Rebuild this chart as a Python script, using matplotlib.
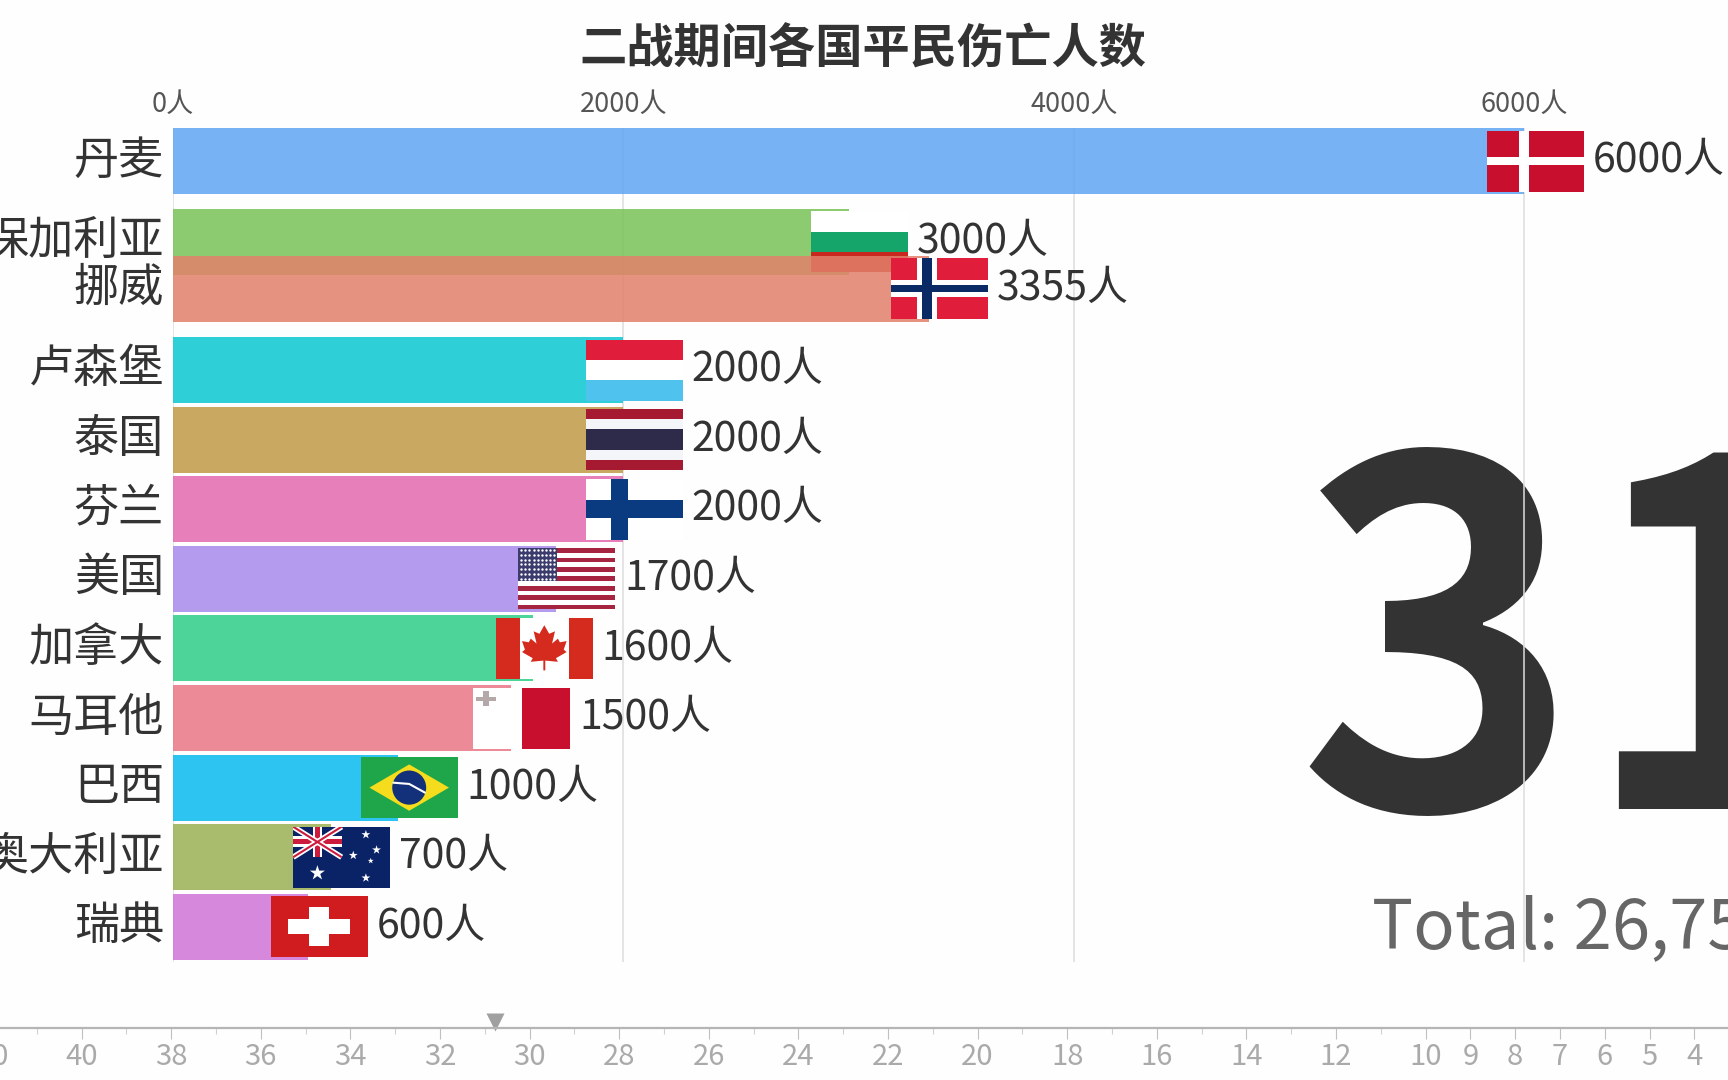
import numpy as np
import matplotlib
matplotlib.use('Agg')
import matplotlib.pyplot as plt
from matplotlib.patches import Rectangle, Polygon, Ellipse
from matplotlib.ticker import FixedLocator, FixedFormatter
from matplotlib.transforms import ScaledTranslation

plt.rcParams['font.family'] = ['Noto Sans CJK SC', 'DejaVu Sans']

TITLE = '二战期间各国平民伤亡人数'
countries = ['丹麦', '保加利亚', '挪威', '卢森堡', '泰国', '芬兰', '美国', '加拿大', '马耳他', '巴西', '奥大利亚', '瑞典']
values = [6000, 3000, 3355, 2000, 2000, 2000, 1700, 1600, 1500, 1000, 700, 600]
ranks = [0, 1.16, 1.83, 3, 4, 5, 6, 7, 8, 9, 10, 11]
colors = ['#77b2f5', '#8ccb70', '#e59480', '#2fcfd8', '#c9a862', '#e87fbc',
          '#b59bee', '#4dd498', '#ee8a97', '#2ec4f2', '#a9bc6d', '#d588dc']
flag_names = ['dk', 'bg', 'no', 'lu', 'th', 'fi', 'us', 'ca', 'mt', 'br', 'au', 'ch']
value_ticks = [0, 2000, 4000, 6000]
timeline_major = [42, 40, 38, 36, 34, 32, 30, 28, 26, 24, 22, 20, 18, 16, 14, 12, 10, 9, 8, 7, 6, 5, 4]
timeline_labels = ['50', '40', '38', '36', '34', '32', '30', '28', '26', '24', '22', '20', '18', '16', '14', '12',
                   '10', '9', '8', '7', '6', '5', '4']
timeline_minor = [41, 39, 37, 35, 33, 31, 29, 27, 25, 23, 21, 19, 17, 15, 13, 11]
current_big = '31'
total_text = 'Total: 26,755'
current_time = 30.77

W, H = 1728, 1080
BG = '#fefefe'
fig = plt.figure(figsize=(W / 100, H / 100), dpi=100, facecolor=BG)

# layout in pixels
X0 = 173
PX_PER_UNIT = 0.2252
AX_TOP, AX_BOT = 128, 962
PITCH = 69.6
ROW0 = 161.2
ax = fig.add_axes([X0 / W, 1 - AX_BOT / H, (W - X0) / W, (AX_BOT - AX_TOP) / H])
ax.set_xlim(0, (W - X0) / PX_PER_UNIT)
ax.set_ylim((AX_BOT - ROW0) / PITCH, (AX_TOP - ROW0) / PITCH)
ax.patch.set_visible(False)
for s in ax.spines.values():
    s.set_visible(False)

ax.set_axisbelow(True)
ax.xaxis.tick_top()
ax.set_xticks(value_ticks, [f'{v}人' for v in value_ticks])
ax.tick_params(axis='x', length=0, pad=7.5, labelsize=19.5, labelcolor='#555555')
ax.grid(axis='x', color='#dddddd', lw=1.1)
ax.set_yticks(ranks, countries)
ax.tick_params(axis='y', length=0, pad=6.5, labelsize=32.5, labelcolor='#333333')
shift = ScaledTranslation(0, 5.5 / 100, fig.dpi_scale_trans)
for lab in ax.get_yticklabels():
    lab.set_transform(lab.get_transform() + shift)

ALPHA = 0.85


def unblend(c):
    rgb = np.array(matplotlib.colors.to_rgb(c))
    return tuple(np.clip((rgb - (1 - ALPHA) * 0.996) / ALPHA, 0, 1))


def R(a, x, y, w, h, c, **k):
    a.add_patch(Rectangle((x, y), w, h, fc=c, ec='none', **k))


def f_dk(a):
    R(a, 0, 0, 1, 1, '#c8102e'); R(a, .33, 0, .11, 1, 'white'); R(a, 0, .43, 1, .14, 'white')


def f_bg(a):
    R(a, 0, 2/3, 1, 1/3, 'white'); R(a, 0, 1/3, 1, 1/3, '#15a56a'); R(a, 0, 0, 1, 1/3, '#c8281e')


def f_no(a):
    R(a, 0, 0, 1, 1, '#e01e3c'); R(a, .27, 0, .2, 1, 'white'); R(a, 0, .36, 1, .28, 'white')
    R(a, .32, 0, .1, 1, '#0a2a66'); R(a, 0, .44, 1, .12, '#0a2a66')


def f_lu(a):
    R(a, 0, 2/3, 1, 1/3, '#e01e3c'); R(a, 0, 1/3, 1, 1/3, 'white'); R(a, 0, 0, 1, 1/3, '#4fc3ee')


def f_th(a):
    for y, h, c in [(0, 1/6, '#a51931'), (1/6, 1/6, '#f4f5f8'), (1/3, 1/3, '#2d2a4a'),
                    (2/3, 1/6, '#f4f5f8'), (5/6, 1/6, '#a51931')]:
        R(a, 0, y, 1, h, c)


def f_fi(a):
    R(a, 0, 0, 1, 1, 'white'); R(a, .26, 0, .17, 1, '#0a3a80'); R(a, 0, .35, 1, .3, '#0a3a80')


def f_us(a):
    for i in range(13):
        R(a, 0, i / 13, 1, 1 / 13, '#a5243f' if i % 2 == 0 else 'white')
    R(a, 0, 6 / 13, .4, 7 / 13, '#3c3b6e')
    gx, gy = np.meshgrid(np.linspace(.03, .37, 9), np.linspace(.5, .97, 7))
    a.scatter(gx.ravel(), gy.ravel(), s=3, c='white', lw=0)


def f_ca(a):
    R(a, 0, 0, 1, 1, 'white'); R(a, 0, 0, .25, 1, '#d52b1e'); R(a, .75, 0, .25, 1, '#d52b1e')
    leaf = [(.5, .88), (.45, .74), (.39, .78), (.42, .58), (.36, .66), (.34, .6), (.27, .62), (.3, .48),
            (.27, .44), (.38, .34), (.36, .28), (.49, .3), (.49, .14), (.51, .14), (.51, .3), (.64, .28),
            (.62, .34), (.73, .44), (.7, .48), (.73, .62), (.66, .6), (.64, .66), (.58, .58), (.61, .78), (.55, .74)]
    a.add_patch(Polygon(leaf, fc='#d52b1e', ec='none'))


def f_mt(a):
    R(a, 0, 0, 1, 1, 'white'); R(a, .5, 0, .5, 1, '#c8102e')
    R(a, .03, .78, .2, .07, '#b5a8a8'); R(a, .1, .7, .06, .24, '#b5a8a8')


def f_br(a):
    R(a, 0, 0, 1, 1, '#1fa64a')
    a.add_patch(Polygon([(.09, .5), (.5, .88), (.91, .5), (.5, .12)], fc='#f5dc1c', ec='none'))
    a.add_patch(Ellipse((.5, .5), .35, .56, fc='#13307a', ec='none'))
    a.plot([.34, .5, .66], [.58, .56, .42], color='white', lw=1.5)


def f_au(a):
    R(a, 0, 0, 1, 1, '#0a2266')
    a.plot([0, .5], [.5, 1], color='white', lw=4, solid_capstyle='butt')
    a.plot([0, .5], [1, .5], color='white', lw=4, solid_capstyle='butt')
    a.plot([0, .5], [.5, 1], color='#cc1b3c', lw=1.5, solid_capstyle='butt')
    a.plot([0, .5], [1, .5], color='#cc1b3c', lw=1.5, solid_capstyle='butt')
    R(a, .2, .5, .1, .5, 'white'); R(a, 0, .67, .5, .17, 'white')
    R(a, .225, .5, .05, .5, '#cc1b3c'); R(a, 0, .71, .5, .09, '#cc1b3c')
    a.scatter([.25, .75, .62, .86, .80, .75], [.24, .87, .53, .62, .44, .16],
              s=[130, 45, 45, 45, 20, 45], c='white', marker='*', lw=0)


def f_ch(a):
    R(a, 0, 0, 1, 1, '#d01c1f')
    R(a, .18, .38, .64, .24, 'white'); R(a, .4, .18, .2, .64, 'white')


FLAGS = dict(dk=f_dk, bg=f_bg, no=f_no, lu=f_lu, th=f_th, fi=f_fi, us=f_us, ca=f_ca, mt=f_mt, br=f_br, au=f_au, ch=f_ch)

for i, (name, val, rk, col, fl) in enumerate(zip(countries, values, ranks, colors, flag_names)):
    base = 2 + i
    ax.barh(rk, val, height=66 / PITCH, color=unblend(col), alpha=ALPHA, lw=0, zorder=base)
    x0 = val + (11 - 48.5) / PX_PER_UNIT
    y0 = rk - 61 / PITCH / 2
    fa = ax.inset_axes([x0, y0, 97 / PX_PER_UNIT, 61 / PITCH], transform=ax.transData, zorder=base + 0.5)
    fa.set_xlim(0, 1)
    fa.set_ylim(0, 1)
    fa.axis('off')
    FLAGS[fl](fa)
    ax.annotate(f'{val}人', (val, rk), xytext=(68.5 * 0.72, 0.5 * 0.72), textcoords='offset points',
                va='center', ha='left', fontsize=29.5, color='#333333', zorder=30, annotation_clip=False)

# big number and total, behind the grid
ax.text(1296 / W, 1 - 809 / H, current_big, transform=fig.transFigure, fontsize=346, fontweight='bold',
        color='#333333', ha='left', va='baseline', zorder=0.2, clip_on=False)
ax.text(1372 / W, 1 - 948 / H, total_text, transform=fig.transFigure, fontsize=49.5,
        color='#666666', ha='left', va='baseline', zorder=0.2, clip_on=False)

fig.text(863 / W, 1 - 50 / H, TITLE, fontsize=34, fontweight='bold', color='#333333', ha='center', va='center')

# timeline
TL_Y = 1028
PAD = 60
tl = fig.add_axes([-PAD / W, 1 - TL_Y / H, (W + PAD) / W, 12 / H])
tl.set_xlim(40 + (81.6 + PAD) / 44.8, 40 - (W - 81.6) / 44.8)
tl.set_ylim(0, 1)
tl.patch.set_visible(False)
for k in ['top', 'left', 'right']:
    tl.spines[k].set_visible(False)
tl.spines['bottom'].set_color('#b5b5b5')
tl.spines['bottom'].set_linewidth(1.6)
tl.yaxis.set_visible(False)
tl.xaxis.set_major_locator(FixedLocator(timeline_major))
tl.xaxis.set_major_formatter(FixedFormatter(timeline_labels))
tl.xaxis.set_minor_locator(FixedLocator(timeline_minor))
tl.tick_params(axis='x', which='major', length=8, width=0.8, color='#c0c0c0', pad=2, labelsize=21, labelcolor='#aaaaaa')
tl.tick_params(axis='x', which='minor', length=4, width=0.8, color='#d0d0d0')
tl.plot([current_time], [0.5], marker='v', ms=13, mfc='#a0a0a0', mec='none', clip_on=False)

fig.savefig('out.png', dpi=100, facecolor=BG)
